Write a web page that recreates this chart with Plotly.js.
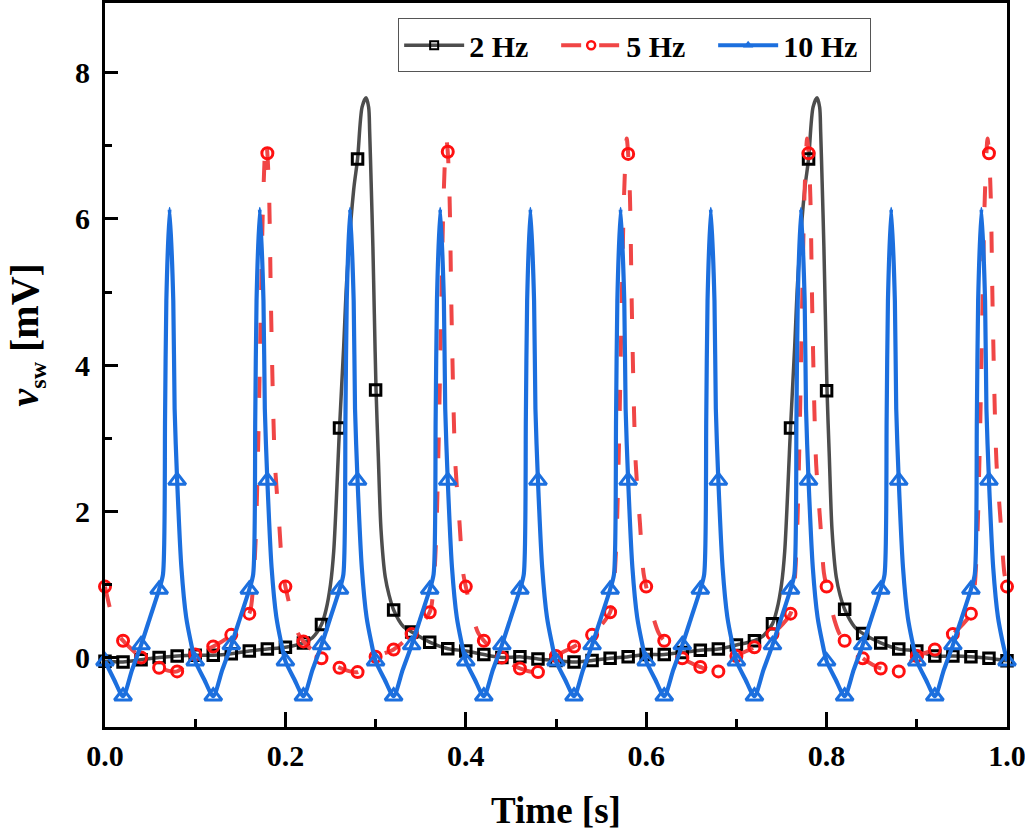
<!DOCTYPE html>
<html>
<head>
<meta charset="utf-8">
<script src="https://cdn.plot.ly/plotly-3.0.1.min.js"></script>
<style>html,body{margin:0;padding:0;background:#fff}#chart{width:1025px;height:834px}</style>
</head>
<body>
<div id="chart"></div>
<script>
// ---------- data ----------
const seriesNames = ['2 Hz', '5 Hz', '10 Hz'];

// marker (symbol) sample times, every 0.02 s
const markTime = [0, 0.02, 0.04, 0.06, 0.08, 0.10, 0.12, 0.14, 0.16, 0.18,
  0.20, 0.22, 0.24, 0.26, 0.28, 0.30, 0.32, 0.34, 0.36, 0.38,
  0.40, 0.42, 0.44, 0.46, 0.48, 0.50, 0.52, 0.54, 0.56, 0.58,
  0.60, 0.62, 0.64, 0.66, 0.68, 0.70, 0.72, 0.74, 0.76, 0.78,
  0.80, 0.82, 0.84, 0.86, 0.88, 0.90, 0.92, 0.94, 0.96, 0.98, 1.00];

const mark2Hz = [-0.05, -0.06, -0.03, 0.00, 0.02, 0.03, 0.03, 0.05, 0.09, 0.115,
  0.14, 0.20, 0.45, 3.14, 6.82, 3.66, 0.65, 0.35, 0.21, 0.12,
  0.09, 0.04, 0.00, 0.01, -0.02, -0.04, -0.06, -0.04, -0.01, 0.01,
  0.04, 0.04, 0.07, 0.10, 0.115, 0.17, 0.23, 0.46, 3.14, 6.82,
  3.65, 0.66, 0.33, 0.20, 0.115, 0.09, 0.02, 0.02, 0.01, -0.01, -0.045];

const mark5Hz = [0.97, 0.23, 0.00, -0.14, -0.19, 0.04, 0.15, 0.31, 0.60, 6.90,
  0.97, 0.22, -0.01, -0.14, -0.20, 0.01, 0.11, 0.32, 0.62, 6.92,
  0.97, 0.23, 0.00, -0.15, -0.20, 0.02, 0.15, 0.31, 0.62, 6.89,
  0.97, 0.23, -0.01, -0.13, -0.19, 0.02, 0.14, 0.32, 0.60, 6.90,
  0.97, 0.23, -0.01, -0.15, -0.19, 0.02, 0.11, 0.32, 0.60, 6.90, 0.97];

const mark10Hz = [-0.05, -0.53, 0.17, 0.93, 2.42, -0.05, -0.53, 0.17, 0.93, 2.42,
  -0.05, -0.53, 0.17, 0.93, 2.42, -0.05, -0.53, 0.17, 0.93, 2.42,
  -0.05, -0.53, 0.17, 0.93, 2.42, -0.05, -0.53, 0.17, 0.93, 2.42,
  -0.05, -0.53, 0.17, 0.93, 2.42, -0.05, -0.53, 0.17, 0.93, 2.42,
  -0.05, -0.53, 0.17, 0.93, 2.42, -0.05, -0.53, 0.17, 0.93, 2.42, -0.05];

// continuous curves (line samples)
const time2Hz = [0, 0.02, 0.04, 0.06, 0.08, 0.10, 0.12, 0.14, 0.16, 0.18,
  0.20, 0.22, 0.23, 0.24, 0.245, 0.25, 0.2536, 0.26, 0.2646, 0.268,
  0.2757, 0.28, 0.285, 0.2894, 0.2923, 0.2934, 0.295, 0.297, 0.2986, 0.3005,
  0.303, 0.306, 0.3107, 0.315, 0.32, 0.331, 0.34, 0.36, 0.38, 0.40,
  0.42, 0.44, 0.46, 0.48, 0.50,
  0.52, 0.54, 0.56, 0.58, 0.60, 0.62, 0.64, 0.66, 0.68, 0.70,
  0.72, 0.73, 0.74, 0.745, 0.75, 0.7536, 0.76, 0.7646, 0.768, 0.7757,
  0.78, 0.785, 0.7894, 0.7923, 0.7934, 0.795, 0.797, 0.7986, 0.8005, 0.803,
  0.806, 0.8107, 0.815, 0.82, 0.831, 0.84, 0.86, 0.88, 0.90, 0.92,
  0.94, 0.96, 0.98, 1.00];
const volt2Hz = [-0.05, -0.06, -0.03, 0.00, 0.02, 0.03, 0.03, 0.05, 0.09, 0.115,
  0.14, 0.20, 0.27, 0.45, 0.65, 1.0, 1.46, 3.14, 4.25, 5.16,
  6.4, 6.82, 7.53, 7.66, 7.53, 7.2, 6.53, 5.62, 4.7, 3.66,
  2.75, 1.75, 1.1, 0.85, 0.65, 0.42, 0.35, 0.21, 0.12, 0.09,
  0.04, 0.00, 0.01, -0.02, -0.04,
  -0.06, -0.04, -0.01, 0.01, 0.04, 0.04, 0.07, 0.10, 0.115, 0.17,
  0.23, 0.3, 0.46, 0.66, 1.0, 1.46, 3.14, 4.25, 5.16, 6.4,
  6.82, 7.53, 7.66, 7.53, 7.2, 6.53, 5.62, 4.7, 3.65, 2.75,
  1.75, 1.1, 0.85, 0.66, 0.42, 0.33, 0.20, 0.115, 0.09, 0.02,
  0.02, 0.01, -0.01, -0.045];

const time5Hz = [
  0, 0.004, 0.009, 0.014, 0.02, 0.04, 0.06, 0.08, 0.10, 0.12, 0.14, 0.16, 0.164, 0.167, 0.170, 0.1725, 0.1754, 0.1784, 0.18, 0.182, 0.184, 0.1865, 0.1884, 0.1931, 0.197,
  0.2, 0.204, 0.209, 0.214, 0.22, 0.24, 0.26, 0.28, 0.30, 0.32, 0.34, 0.36, 0.364, 0.367, 0.370, 0.3725, 0.3754, 0.3784, 0.38, 0.382, 0.384, 0.3865, 0.3884, 0.3931, 0.397,
  0.4, 0.404, 0.409, 0.414, 0.42, 0.44, 0.46, 0.48, 0.50, 0.52, 0.54, 0.56, 0.564, 0.567, 0.570, 0.5725, 0.5754, 0.5784, 0.58, 0.582, 0.584, 0.5865, 0.5884, 0.5931, 0.597,
  0.6, 0.604, 0.609, 0.614, 0.62, 0.64, 0.66, 0.68, 0.70, 0.72, 0.74, 0.76, 0.764, 0.767, 0.770, 0.7725, 0.7754, 0.7784, 0.78, 0.782, 0.784, 0.7865, 0.7884, 0.7931, 0.797,
  0.8, 0.804, 0.809, 0.814, 0.82, 0.84, 0.86, 0.88, 0.90, 0.92, 0.94, 0.96, 0.964, 0.967, 0.970, 0.9725, 0.9754, 0.9784, 0.98, 0.982, 0.984, 0.9865, 0.9884, 0.9931, 0.997,
  1.0];
const volt5Hz = [
  0.97, 0.75, 0.5, 0.33, 0.23, 0.00, -0.14, -0.19, 0.04, 0.15, 0.31, 0.60, 0.95, 1.6, 3.0, 4.6, 6.3, 7.1, 6.90, 6.3, 4.82, 3.37, 2.65, 1.83, 1.16,
  0.97, 0.75, 0.5, 0.33, 0.22, -0.01, -0.14, -0.20, 0.01, 0.11, 0.32, 0.62, 0.95, 1.6, 3.0, 4.6, 6.3, 7.1, 6.92, 6.3, 4.82, 3.37, 2.65, 1.83, 1.16,
  0.97, 0.75, 0.5, 0.33, 0.23, 0.00, -0.15, -0.20, 0.02, 0.15, 0.31, 0.62, 0.95, 1.6, 3.0, 4.6, 6.3, 7.1, 6.89, 6.3, 4.82, 3.37, 2.65, 1.83, 1.16,
  0.97, 0.75, 0.5, 0.33, 0.23, -0.01, -0.13, -0.19, 0.02, 0.14, 0.32, 0.60, 0.95, 1.6, 3.0, 4.6, 6.3, 7.1, 6.90, 6.3, 4.82, 3.37, 2.65, 1.83, 1.16,
  0.97, 0.75, 0.5, 0.33, 0.23, -0.01, -0.15, -0.19, 0.02, 0.11, 0.32, 0.60, 0.95, 1.6, 3.0, 4.6, 6.3, 7.1, 6.90, 6.3, 4.82, 3.37, 2.65, 1.83, 1.16,
  0.97];

const time10Hz = [
  0.0, 0.01, 0.02, 0.03, 0.04, 0.05, 0.06, 0.0643, 0.0666, 0.068, 0.0716, 0.0757, 0.0772, 0.08, 0.0847, 0.09, 0.095,
  0.1, 0.11, 0.12, 0.13, 0.14, 0.15, 0.16, 0.1643, 0.1666, 0.168, 0.1716, 0.1757, 0.1772, 0.18, 0.1847, 0.19, 0.195,
  0.2, 0.21, 0.22, 0.23, 0.24, 0.25, 0.26, 0.2643, 0.2666, 0.268, 0.2716, 0.2757, 0.2772, 0.28, 0.2847, 0.29, 0.295,
  0.3, 0.31, 0.32, 0.33, 0.34, 0.35, 0.36, 0.3643, 0.3666, 0.368, 0.3716, 0.3757, 0.3772, 0.38, 0.3847, 0.39, 0.395,
  0.4, 0.41, 0.42, 0.43, 0.44, 0.45, 0.46, 0.4643, 0.4666, 0.468, 0.4716, 0.4757, 0.4772, 0.48, 0.4847, 0.49, 0.495,
  0.5, 0.51, 0.52, 0.53, 0.54, 0.55, 0.56, 0.5643, 0.5666, 0.568, 0.5716, 0.5757, 0.5772, 0.58, 0.5847, 0.59, 0.595,
  0.6, 0.61, 0.62, 0.63, 0.64, 0.65, 0.66, 0.6643, 0.6666, 0.668, 0.6716, 0.6757, 0.6772, 0.68, 0.6847, 0.69, 0.695,
  0.7, 0.71, 0.72, 0.73, 0.74, 0.75, 0.76, 0.7643, 0.7666, 0.768, 0.7716, 0.7757, 0.7772, 0.78, 0.7847, 0.79, 0.795,
  0.8, 0.81, 0.82, 0.83, 0.84, 0.85, 0.86, 0.8643, 0.8666, 0.868, 0.8716, 0.8757, 0.8772, 0.88, 0.8847, 0.89, 0.895,
  0.9, 0.91, 0.92, 0.93, 0.94, 0.95, 0.96, 0.9643, 0.9666, 0.968, 0.9716, 0.9757, 0.9772, 0.98, 0.9847, 0.99, 0.995,
  1.0];
const volt10Hz = [
  -0.05, -0.3, -0.53, -0.17, 0.17, 0.55, 0.93, 1.14, 3.3, 4.88, 6.14, 4.88, 3.4, 2.42, 1.23, 0.55, 0.22,
  -0.05, -0.3, -0.53, -0.17, 0.17, 0.55, 0.93, 1.14, 3.3, 4.88, 6.14, 4.88, 3.4, 2.42, 1.23, 0.55, 0.22,
  -0.05, -0.3, -0.53, -0.17, 0.17, 0.55, 0.93, 1.14, 3.3, 4.88, 6.14, 4.88, 3.4, 2.42, 1.23, 0.55, 0.22,
  -0.05, -0.3, -0.53, -0.17, 0.17, 0.55, 0.93, 1.14, 3.3, 4.88, 6.14, 4.88, 3.4, 2.42, 1.23, 0.55, 0.22,
  -0.05, -0.3, -0.53, -0.17, 0.17, 0.55, 0.93, 1.14, 3.3, 4.88, 6.14, 4.88, 3.4, 2.42, 1.23, 0.55, 0.22,
  -0.05, -0.3, -0.53, -0.17, 0.17, 0.55, 0.93, 1.14, 3.3, 4.88, 6.14, 4.88, 3.4, 2.42, 1.23, 0.55, 0.22,
  -0.05, -0.3, -0.53, -0.17, 0.17, 0.55, 0.93, 1.14, 3.3, 4.88, 6.14, 4.88, 3.4, 2.42, 1.23, 0.55, 0.22,
  -0.05, -0.3, -0.53, -0.17, 0.17, 0.55, 0.93, 1.14, 3.3, 4.88, 6.14, 4.88, 3.4, 2.42, 1.23, 0.55, 0.22,
  -0.05, -0.3, -0.53, -0.17, 0.17, 0.55, 0.93, 1.14, 3.3, 4.88, 6.14, 4.88, 3.4, 2.42, 1.23, 0.55, 0.22,
  -0.05, -0.3, -0.53, -0.17, 0.17, 0.55, 0.93, 1.14, 3.3, 4.88, 6.14, 4.88, 3.4, 2.42, 1.23, 0.55, 0.22,
  -0.05];

const xTickVals = [0, 0.2, 0.4, 0.6, 0.8, 1.0];
const xTickText = ['0.0', '0.2', '0.4', '0.6', '0.8', '1.0'];
const yTickVals = [0, 2, 4, 6, 8];
const yTickText = ['0', '2', '4', '6', '8'];
const xTitle = 'Time [s]';
const yTitle = '<i>v</i><sub><span style="font-size:24px">sw</span></sub> [mV]';

// ---------- styling ----------
const FONT = 'Liberation Serif, Times New Roman, serif';
const colBlackLine = '#4d4d4d', colBlackMark = '#000000';
const colRedLine = '#f04646', colRedMark = '#ff1010';
const colBlue = '#1c6fde';

const traces = [
  {x: time2Hz, y: volt2Hz, mode: 'lines', line: {color: colBlackLine, width: 3.5, shape: 'spline', smoothing: 0.8}, showlegend: false, hoverinfo: 'skip'},
  {x: markTime, y: mark2Hz, mode: 'markers', cliponaxis: false, marker: {symbol: 'square-open', size: 10.5, color: colBlackMark, line: {width: 3, color: colBlackMark}}, showlegend: false},
  {x: time5Hz, y: volt5Hz, mode: 'lines', line: {color: colRedLine, width: 4, dash: '21px,33px', shape: 'spline', smoothing: 0.8}, showlegend: false, hoverinfo: 'skip'},
  {x: markTime, y: mark5Hz, mode: 'markers', cliponaxis: false, marker: {symbol: 'circle-open', size: 11, color: colRedMark, line: {width: 3, color: colRedMark}}, showlegend: false},
  {x: time10Hz, y: volt10Hz, mode: 'lines', line: {color: colBlue, width: 4.2, shape: 'spline', smoothing: 0.7}, showlegend: false, hoverinfo: 'skip'},
  {x: markTime, y: mark10Hz, mode: 'markers', cliponaxis: false, marker: {symbol: 'triangle-up-open', size: 15, color: colBlue, line: {width: 3, color: colBlue}}, showlegend: false},
  // legend entries
  {x: [null], y: [null], name: seriesNames[0], mode: 'lines+markers', line: {color: colBlackLine, width: 3.5}, marker: {symbol: 'square-open', size: 8, color: colBlackMark, line: {width: 2, color: colBlackMark}}},
  {x: [null], y: [null], name: seriesNames[1], mode: 'lines+markers', line: {color: colRedLine, width: 4, dash: '20px,18px'}, marker: {symbol: 'circle-open', size: 8, color: colRedMark, line: {width: 2.5, color: colRedMark}}},
  {x: [null], y: [null], name: seriesNames[2], mode: 'lines+markers', line: {color: colBlue, width: 4}, marker: {symbol: 'triangle-up', size: 9, color: colBlue}}
];

const axisCommon = {
  showline: true, linewidth: 3, linecolor: '#000', mirror: true,
  ticks: 'inside', tickwidth: 3, tickcolor: '#000',
  showgrid: false, zeroline: false,
  ticklabeloverflow: 'allow',
  tickfont: {family: FONT, size: 30, color: '#000', weight: 'bold'}
};

const layout = {
  width: 1025, height: 834,
  margin: {l: 104.5, r: 17.8, t: 2.8, b: 106.5},
  paper_bgcolor: '#fff', plot_bgcolor: '#fff',
  showlegend: true,
  legend: {
    orientation: 'h', x: 0.325, xanchor: 'left', y: 0.979, yanchor: 'top',
    bgcolor: '#fff', bordercolor: '#555', borderwidth: 1,
    itemwidth: 60, entrywidth: 82, traceorder: 'normal',
    font: {family: FONT, size: 30, color: '#000', weight: 'bold'}
  },
  xaxis: Object.assign({}, axisCommon, {
    range: [0, 1], tickmode: 'array', tickvals: xTickVals, ticktext: xTickText,
    ticklen: 15,
    minor: {dtick: 0.1, ticks: 'inside', ticklen: 8, tickwidth: 3, tickcolor: '#000', showgrid: false},
    title: {text: xTitle, font: {family: FONT, size: 37, color: '#000', weight: 'bold'}, standoff: 27}
  }),
  yaxis: Object.assign({}, axisCommon, {
    range: [-0.951, 8.955], tickmode: 'array', tickvals: yTickVals, ticktext: yTickText,
    ticklen: 13, ticklabelstandoff: 6,
    minor: {dtick: 1, ticks: 'inside', ticklen: 7, tickwidth: 3, tickcolor: '#000', showgrid: false}
  }),
  annotations: [{
    text: yTitle, xref: 'paper', yref: 'paper',
    x: -0.087, y: 0.5416, xanchor: 'center', yanchor: 'middle',
    textangle: -90, showarrow: false,
    font: {family: FONT, size: 40, color: '#000', weight: 'bold'}
  }]
};

Plotly.newPlot('chart', traces, layout, {staticPlot: true, displayModeBar: false});
</script>
</body>
</html>
